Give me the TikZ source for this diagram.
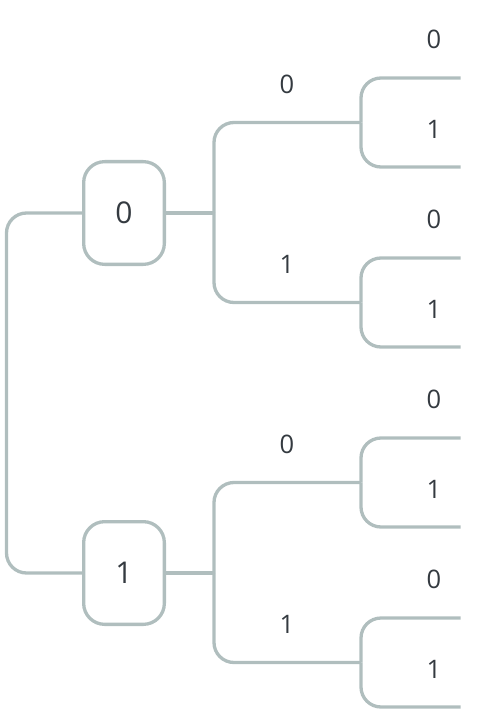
\documentclass[tikz,border=0pt]{standalone}
\usepackage{fontspec}
\setmainfont{Open Sans}
\usetikzlibrary{calc}
\definecolor{edgecol}{RGB}{176,190,190}
\definecolor{txtcol}{RGB}{52,58,64}
\begin{document}
\begin{tikzpicture}[x=1pt,y=-1pt,
  line width=3.3pt,
  conn/.style={draw=edgecol,rounded corners=20pt},
  bitbox/.style={draw=edgecol,rounded corners=21pt,minimum width=80.7pt,minimum height=102.7pt,inner sep=0pt,text=txtcol,font=\fontsize{30}{36}\selectfont},
  bitlab/.style={inner sep=0pt,text=txtcol,font=\fontsize{25.5}{30}\selectfont}]
\useasboundingbox (0,0) rectangle (498,727);
\node[bitbox] (b0) at (124,213) {0};
\node[bitbox] (b1) at (124,573) {1};
\coordinate (L) at (6.5,393);
\draw[conn] (b0.west) -| (L) |- (b1.west);
% junctions
\coordinate (j0) at (214,213);
\coordinate (j1) at (214,573);
\coordinate (m00) at (361,122.5);
\coordinate (m01) at (361,302.5);
\coordinate (m10) at (361,482.5);
\coordinate (m11) at (361,662.5);
\draw[conn] (b0.east) -- (j0);
\draw[conn] (b1.east) -- (j1);
\draw[conn] (j0) |- (m00);
\draw[conn] (j0) |- (m01);
\draw[conn] (j1) |- (m10);
\draw[conn] (j1) |- (m11);
\node[bitlab] (l00) at ($(m00)+(-74,-38.5)$) {0};
\node[bitlab] (l01) at ($(m01)+(-74,-38.5)$) {1};
\node[bitlab] (l10) at ($(m10)+(-74,-38.5)$) {0};
\node[bitlab] (l11) at ($(m11)+(-74,-38.5)$) {1};
% leaves
\foreach \m in {m00,m01,m10,m11}{
  \coordinate (\m-a) at ($(\m)+(99.5,-44.5)$);
  \coordinate (\m-b) at ($(\m)+(99.5,44.5)$);
  \draw[conn] (\m) |- (\m-a);
  \draw[conn] (\m) |- (\m-b);
  \node[bitlab] (\m-la) at ($(\m)+(73,-83.5)$) {0};
  \node[bitlab] (\m-lb) at ($(\m)+(73,6.5)$) {1};
}
\end{tikzpicture}
\end{document}
